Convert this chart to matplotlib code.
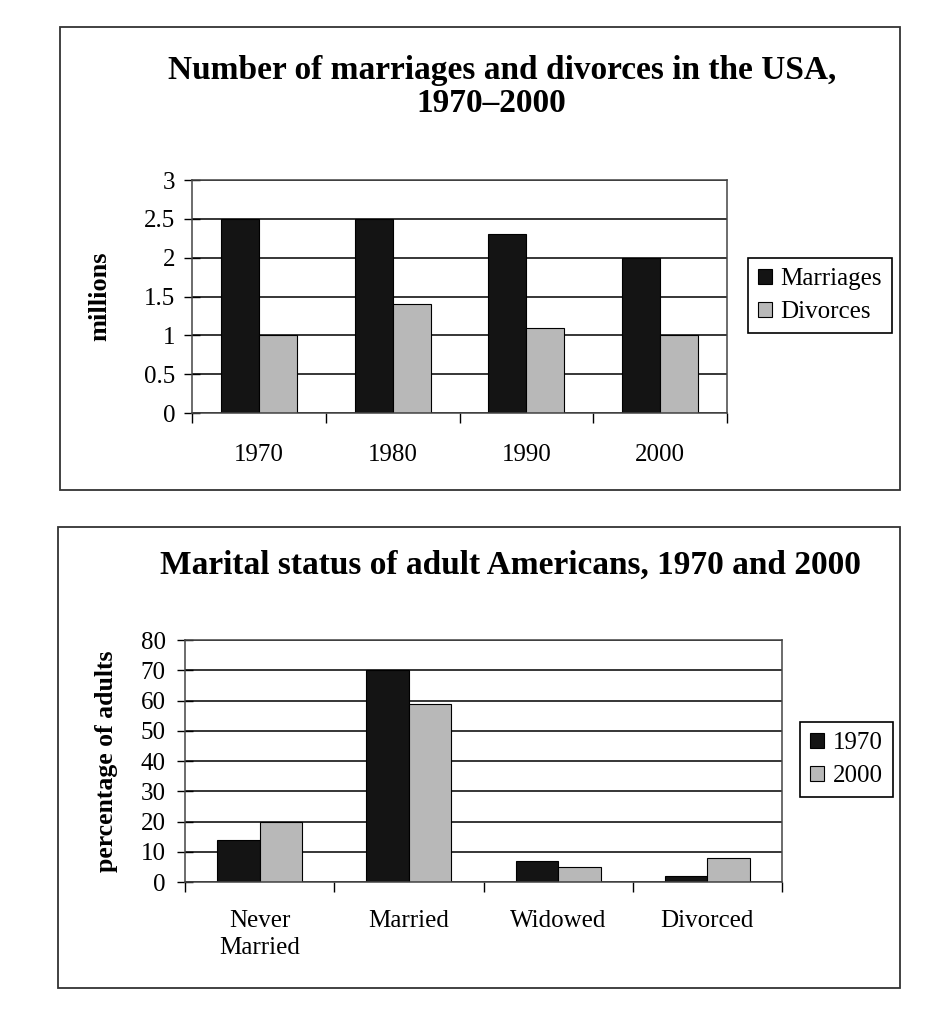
import numpy as np
import matplotlib.pyplot as plt
from matplotlib.patches import Rectangle

# top chart data (millions)
years = ["1970", "1980", "1990", "2000"]
marriages = [2.5, 2.5, 2.3, 2.0]
divorces = [1.0, 1.4, 1.1, 1.0]

# bottom chart data (percentage of adults)
status = ["Never\nMarried", "Married", "Widowed", "Divorced"]
pct_1970 = [14, 70, 7, 2]
pct_2000 = [20, 59, 5, 8]

plt.rcParams['font.family'] = ['Liberation Serif', 'DejaVu Serif']

dark = "#141414"
light = "#b8b8b8"
W, H = 926, 1013

fig = plt.figure(figsize=(W / 100, H / 100), dpi=100)

# outer frames around each chart
for (x0, y0, x1, y1) in [(60, 27, 900, 490), (58, 527, 900, 988)]:
    fig.patches.append(Rectangle((x0 / W, 1 - y1 / H), (x1 - x0) / W, (y1 - y0) / H,
                                 transform=fig.transFigure, fill=False,
                                 edgecolor="#333333", linewidth=1.3))


def style_axes(ax, ymax, ystep, xpad, ypad):
    ax.set_ylim(0, ymax)
    ax.set_xlim(-0.5, 3.5)
    ax.set_yticks(np.arange(0, ymax + ystep / 2, ystep))
    ax.yaxis.grid(True, color="black", linewidth=1.1)
    ax.set_axisbelow(True)
    for s in ax.spines.values():
        s.set_color("#444444")
        s.set_linewidth(1.1)
    ax.set_xticks(np.arange(-0.5, 4, 1), minor=False)
    ax.set_xticklabels([])
    ax.tick_params(axis="x", which="major", length=7, width=1, direction="out")
    ax.tick_params(axis="x", which="minor", length=0, pad=xpad, labelsize=18)
    ax.tick_params(axis="y", length=12, width=1, direction="inout", labelsize=18, pad=ypad)


def add_legend(ax, x0, y0):
    leg = fig.legend(*ax.get_legend_handles_labels(), loc="upper left",
                     bbox_to_anchor=(x0 / W, 1 - y0 / H), borderaxespad=0,
                     fontsize=18, handlelength=0.55, handleheight=0.55, handletextpad=0.35,
                     labelspacing=0.45, borderpad=0.4, fancybox=False,
                     edgecolor="black", framealpha=1)
    leg.get_frame().set_linewidth(1.2)


x = np.arange(len(years))
bw = 0.285

# --- top chart ---
ax1 = fig.add_axes([192 / W, 1 - 413 / H, (727 - 192) / W, (413 - 180) / H])
ax1.bar(x - bw / 2, marriages, bw, color=dark, edgecolor="black", linewidth=0.8, label="Marriages")
ax1.bar(x + bw / 2, divorces, bw, color=light, edgecolor="black", linewidth=0.8, label="Divorces")
style_axes(ax1, 3, 0.5, 22, 6)
ax1.set_yticklabels(["0", "0.5", "1", "1.5", "2", "2.5", "3"])
ax1.set_xticks(x, minor=True)
ax1.set_xticklabels(years, minor=True)
ax1.set_ylabel("millions", fontsize=19, fontweight="bold")
ax1.yaxis.set_label_coords(-0.15, 0.5)
add_legend(ax1, 748, 258)

fig.text(502 / W, 1 - 70 / H, "Number of marriages and divorces in the USA,",
         ha="center", va="center", fontsize=24, fontweight="bold")
fig.text(491 / W, 1 - 104 / H, "1970\u20132000",
         ha="center", va="center", fontsize=24, fontweight="bold")

# --- bottom chart ---
ax2 = fig.add_axes([185 / W, 1 - 882 / H, (782 - 185) / W, (882 - 640) / H])
ax2.bar(x - bw / 2, pct_1970, bw, color=dark, edgecolor="black", linewidth=0.8, label="1970")
ax2.bar(x + bw / 2, pct_2000, bw, color=light, edgecolor="black", linewidth=0.8, label="2000")
style_axes(ax2, 80, 10, 20, 8)
ax2.set_xticks(x, minor=True)
ax2.set_xticklabels(status, minor=True, linespacing=1.3)
ax2.set_ylabel("percentage of adults", fontsize=18.5, fontweight="bold")
ax2.yaxis.set_label_coords(-0.113, 0.5)
add_legend(ax2, 800, 722)

fig.text(510 / W, 1 - 565 / H, "Marital status of adult Americans, 1970 and 2000",
         ha="center", va="center", fontsize=24, fontweight="bold")

fig.savefig("out.png", dpi=100)
